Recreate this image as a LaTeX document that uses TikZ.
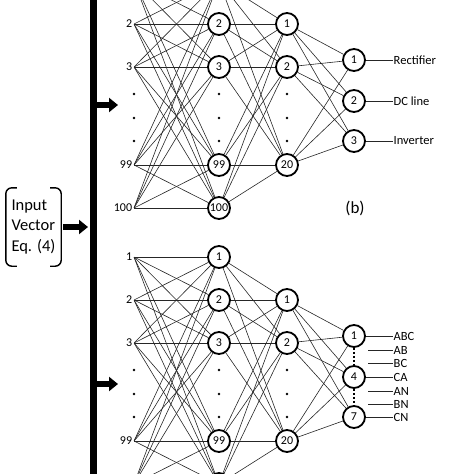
\documentclass[tikz,border=0pt]{standalone}
\usepackage{fontspec}
\setmainfont{Carlito}
\usetikzlibrary{arrows.meta}

\begin{document}
\begin{tikzpicture}[x=1pt,y=-1pt,
	neuron/.style={circle,draw,line width=1.8pt,minimum size=22pt,inner sep=0pt,font=\fontsize{12}{12}\selectfont},
	inpt/.style={inner sep=0pt,minimum size=0pt},
	numlbl/.style={inner sep=1.5pt,font=\fontsize{12}{12}\selectfont},
	wire/.style={line width=0.6pt,black!85},
	outlbl/.style={anchor=west,inner sep=0.5pt,font=\fontsize{12.5}{12.5}\selectfont},
	fatarrow/.style={line width=6pt,-{Triangle[width=14pt,length=9pt]}},
	bus/.style={line width=6.5pt},
	vecbox/.style={align=left,minimum width=55pt,minimum height=78pt,inner sep=0pt,font=\fontsize{16.5}{20.5}\selectfont},
	brk/.style={line width=1.4pt,rounded corners=6pt}]
	\useasboundingbox (0,0) rectangle (474,474);
	\clip (0,0) rectangle (474,474);

	\foreach \n/\dy in {b/0,c/276}{
		\begin{scope}[shift={(0,\dy)}]
			\foreach \i/\y in {1/-19,2/24,3/67,99/165,100/208}
				\node[inpt,label={[numlbl]left:\i}] (\n-x\i) at (134,\y) {};
			\foreach \i/\y in {1/-19,2/24,3/67,99/165,100/208}
				\node[neuron] (\n-h\i) at (219,\y) {\i};
			\foreach \i/\y in {1/24,2/67,20/165}
				\node[neuron] (\n-g\i) at (287,\y) {\i};
			\foreach \x in {134,219,287}
				\foreach \y in {94,118,141}
					\fill (\x,\y) circle (1.3pt);
		\end{scope}
		\foreach \i in {1,2,3,99,100}
			\foreach \j in {1,2,3,99,100}
				\draw[wire] (\n-x\i) -- (\n-h\j);
		\foreach \i in {1,2,3,99,100}
			\foreach \j in {1,2,20}
				\draw[wire] (\n-h\i) -- (\n-g\j);
	}

	\node[neuron] (b-y1) at (354,60) {1};
	\node[neuron] (b-y2) at (354,101) {2};
	\node[neuron] (b-y3) at (354,141) {3};
	\foreach \i in {1,2,20}
		\foreach \j in {1,2,3}
			\draw[wire] (b-g\i) -- (b-y\j);
	\node[outlbl] (b-rect) at (393,60) {Rectifier};
	\node[outlbl] (b-line) at (393,101) {DC line};
	\node[outlbl] (b-inv) at (393,141) {Inverter};
	\draw[wire] (b-y1) -- (b-rect.west);
	\draw[wire] (b-y2) -- (b-line.west);
	\draw[wire] (b-y3) -- (b-inv.west);
	\node[font=\fontsize{17}{17}\selectfont] (b-cap) at (355,208) {(b)};

	\node[neuron] (c-y1) at (354,336) {1};
	\node[neuron] (c-y4) at (354,377) {4};
	\node[neuron] (c-y7) at (354,417) {7};
	\foreach \i in {1,2,20}
		\foreach \j in {1,4,7}
			\draw[wire] (c-g\i) -- (c-y\j);
	\draw[line width=2pt,dotted] (c-y1) -- (c-y4);
	\draw[line width=2pt,dotted] (c-y4) -- (c-y7);
	\node[outlbl] (c-ABC) at (393,336) {ABC};
	\node[outlbl] (c-CA) at (393,377) {CA};
	\node[outlbl] (c-CN) at (393,417) {CN};
	\draw[wire] (c-y1) -- (c-ABC.west);
	\draw[wire] (c-y4) -- (c-CA.west);
	\draw[wire] (c-y7) -- (c-CN.west);
	\foreach \t/\y in {AB/350,BC/363,AN/391,BN/404}{
		\node[outlbl] (c-\t) at (393,\y) {\t};
		\coordinate (c-s\t) at (368,\y);
		\draw[wire] (c-s\t) -- (c-\t.west);
	}

	\coordinate (bar top) at (93.5,0);
	\coordinate (bar bot) at (93.5,474);
	\draw[bus] (bar top) -- (bar bot);
	\coordinate (b-tap) at (93.5,105);
	\coordinate (b-feed) at (118,105);
	\coordinate (c-tap) at (93.5,384);
	\coordinate (c-feed) at (118,384);
	\draw[fatarrow] (b-tap) -- (b-feed);
	\draw[fatarrow] (c-tap) -- (c-feed);

	\node[vecbox] (invec) at (33.5,227) {Input\\Vector\\Eq. (4)};
	\draw[brk] ([xshift=11pt]invec.north west) -- (invec.north west) -- (invec.south west) -- ([xshift=11pt]invec.south west);
	\draw[brk] ([xshift=-11pt]invec.north east) -- (invec.north east) -- (invec.south east) -- ([xshift=-11pt]invec.south east);
	\coordinate (bar in) at (88,227);
	\draw[fatarrow,line width=5.5pt,shorten <=2pt] (invec.east) -- (bar in);
\end{tikzpicture}
\end{document}
